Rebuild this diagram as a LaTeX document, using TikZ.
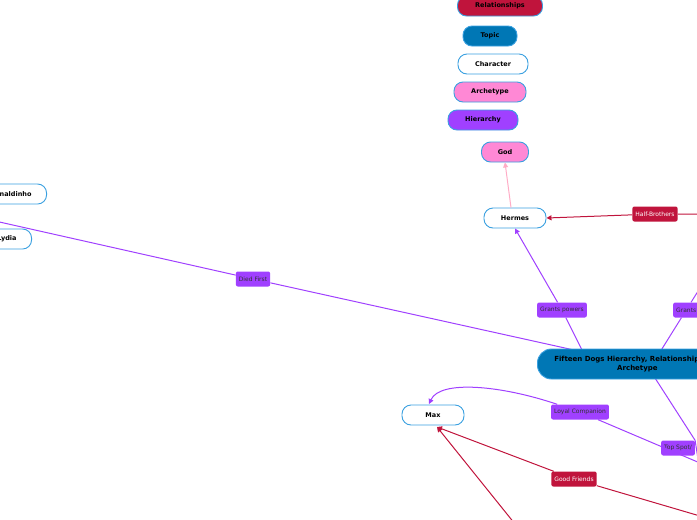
\documentclass[tikz,border=0pt]{standalone}
\usepackage{fontspec}
\setmainfont{DejaVu Sans}
\usetikzlibrary{arrows.meta}
\definecolor{cred}{HTML}{C0143C}
\definecolor{cblue}{HTML}{0077B5}
\definecolor{cpink}{HTML}{FF88D5}
\definecolor{cpurp}{HTML}{A040FF}
\definecolor{cbord}{HTML}{3AA0E0}
\begin{document}
\begin{tikzpicture}[x=1pt,y=-1pt,
 box/.style={draw=cbord,line width=0.9pt,rounded corners=9pt,minimum height=20pt,font=\bfseries\fontsize{6.5}{7}\selectfont,inner sep=1pt},
 lab/.style={rounded corners=2pt,minimum height=15pt,inner sep=3pt,font=\fontsize{6}{7}\selectfont},
 plab/.style={lab,fill=cpurp,text=black!80},
 rlab/.style={lab,fill=cred,text=white},
 pl/.style={draw=cpurp,line width=1pt},
 rl/.style={draw=cred,line width=1pt},
 arr/.style={-{Triangle[length=5pt,width=5pt]}}]
\useasboundingbox (0,0) rectangle (697,520);
\clip (0,0) rectangle (697,520);
\node[box,fill=cred,minimum width=85pt] (rel) at (500,6) {Relationships};
\node[box,fill=cblue,minimum width=54pt] (top) at (490,36) {Topic};
\node[box,fill=white,minimum width=70pt] (cha) at (493,64) {Character};
\node[box,fill=cpink,minimum width=72pt] (arc) at (490,92) {Archetype};
\node[box,fill=cpurp,minimum width=70pt] (hie) at (483,120) {Hierarchy};
\node[box,fill=cpink,minimum width=47pt] (god) at (505,152) {God};
\node[box,fill=white,minimum width=62pt] (her) at (515,218) {Hermes};
\node[box,fill=white,minimum width=62pt] (max) at (433,415) {Max};
\node[box,fill=white,anchor=east,inner xsep=15pt] (ron) at (47,194) {Ronaldinho};
\node[box,fill=white,anchor=east,inner xsep=15pt] (lyd) at (32,239) {Lydia};
\coordinate (eHB) at (700,214);
\coordinate (eL) at (-5,221);
\coordinate (eG) at (700,288);
\coordinate (eT) at (700,472);
\coordinate (eLC) at (700,463);
\coordinate (eGF) at (700,516);
\coordinate (eR) at (515,524);
% connectors
\draw[pink!90!magenta,line width=1pt,arr] (her.north) ++(-4,0) coordinate (hn) -- (god.south);
\node[rlab] (hb) at (655,214) {Half-Brothers};
\draw[rl,arr] (eHB) -- (hb) -- (her.east);
\coordinate (m1) at (583,352);
\coordinate (m2) at (660,352);
\coordinate (m3) at (655,378);
\node[plab] (gp) at (562,310) {Grants powers};
\draw[pl,arr] (m1) -- (gp) -- (her.south);
\node[plab] (df) at (253,279) {Died First};
\draw[pl] (m1) -- (df) -- (eL);
\node[plab,anchor=west] (gr) at (673,310) {Grants};
\draw[pl] (m2) -- (gr) -- (eG);
\node[plab,anchor=west] (ts) at (661,448) {Top Spot/};
\draw[pl] (m3) -- (ts.north east) -- (eT);
\node[plab] (lc) at (580,412) {Loyal Companion};
\draw[pl] (eLC) -- (lc);
\draw[pl,arr] (lc) .. controls (500,385) and (440,380) .. (429,404);
\node[rlab] (gf) at (574,479) {Good Friends};
\draw[rl] (eGF) -- (gf);
\draw[rl,arr] (gf) -- (437,427);
\draw[rl,arr] (eR) -- (437,427);
\node[draw=cbord,line width=0.9pt,fill=cblue,rounded corners=14pt,anchor=west,minimum width=200pt,minimum height=30pt,align=center,font=\bfseries\fontsize{7}{9}\selectfont] (main) at (537,364) {Fifteen Dogs Hierarchy, Relationships and\\Archetype};
\end{tikzpicture}
\end{document}
